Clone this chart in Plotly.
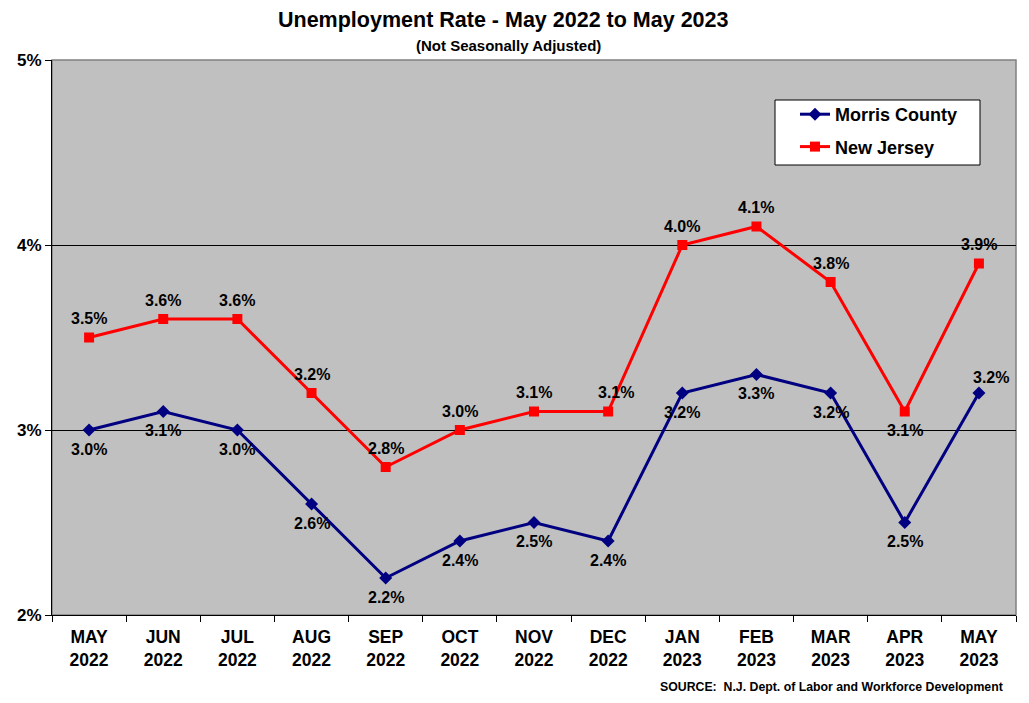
import plotly.graph_objects as go

months = ["MAY<br>2022", "JUN<br>2022", "JUL<br>2022", "AUG<br>2022", "SEP<br>2022", "OCT<br>2022",
          "NOV<br>2022", "DEC<br>2022", "JAN<br>2023", "FEB<br>2023", "MAR<br>2023", "APR<br>2023", "MAY<br>2023"]
morris = [3.0, 3.1, 3.0, 2.6, 2.2, 2.4, 2.5, 2.4, 3.2, 3.3, 3.2, 2.5, 3.2]
nj = [3.5, 3.6, 3.6, 3.2, 2.8, 3.0, 3.1, 3.1, 4.0, 4.1, 3.8, 3.1, 3.9]
y_ticks = [2, 3, 4, 5]

FONT = "Liberation Sans, Arial, sans-serif"
NARROW = "Liberation Sans Narrow, Arial Narrow, Liberation Sans, sans-serif"

# label offsets (pixels) for data labels
morris_dx = [0] * 12 + [12]
morris_dy = [-19] * 12 + [16]
nj_dx = [0] * 7 + [8, 0, 0, 0, 0, 0]
nj_dy = [19] * 11 + [-19, 19]

L, R, T, B = 52, 13, 60, 88
W, H = 1029, 703
W_plot = W - L - R
H_plot = H - T - B
def px(xp):
    return (xp - L) / W_plot
def py(yp):
    return (H - B - yp) / H_plot

fig = go.Figure()
fig.add_trace(go.Scatter(
    x=months, y=morris, name="Morris County", mode="lines+markers", legendgroup="a",
    line=dict(color="#000080", width=3),
    marker=dict(symbol="diamond", size=10, color="#000080"),
    cliponaxis=False,
))
fig.add_trace(go.Scatter(
    x=months, y=nj, name="New Jersey", mode="lines+markers", legendgroup="b",
    line=dict(color="#FF0000", width=3),
    marker=dict(symbol="square", size=10, color="#FF0000"),
    cliponaxis=False,
))

anns = []
lab_font = dict(family=FONT, size=16, color="black", weight="bold")
for m, v, dx, dy in zip(months, morris, morris_dx, morris_dy):
    anns.append(dict(x=m, y=v, xref="x", yref="y", text=f"{v:.1f}%", showarrow=False,
                     xshift=dx, yshift=dy, font=lab_font))
for m, v, dx, dy in zip(months, nj, nj_dx, nj_dy):
    anns.append(dict(x=m, y=v, xref="x", yref="y", text=f"{v:.1f}%", showarrow=False,
                     xshift=dx, yshift=dy, font=lab_font))
anns += [
    dict(text="<b>Unemployment Rate - May 2022 to May 2023</b>", x=px(503), y=py(20), xref="paper", yref="paper",
         xanchor="center", yanchor="middle", showarrow=False,
         font=dict(family=NARROW, size=21.5, color="black")),
    dict(text="<b>(Not Seasonally Adjusted)</b>", x=px(508), y=py(45), xref="paper", yref="paper",
         xanchor="center", yanchor="middle", showarrow=False,
         font=dict(family=NARROW, size=15, color="black")),
    dict(text="<b>SOURCE:  N.J. Dept. of Labor and Workforce Development</b>", x=px(1005), y=py(687),
         xref="paper", yref="paper", xanchor="right", yanchor="middle", showarrow=False,
         font=dict(family=FONT, size=12.3, color="black")),
]

fig.update_layout(
    width=W, height=H,
    margin=dict(l=L, r=R, t=T, b=B),
    paper_bgcolor="white", plot_bgcolor="#C0C0C0",
    font=dict(family=FONT, color="black"),
    showlegend=True,
    legend=dict(x=px(795), y=py(96), xanchor="left", yanchor="top",
                bgcolor="rgba(0,0,0,0)", borderwidth=0,
                font=dict(family=FONT, size=18, color="black", weight="bold"),
                itemwidth=30, tracegroupgap=6),
    annotations=anns,
)

fig.update_xaxes(
    type="category", range=[-0.5, len(months) - 0.5],
    tickson="boundaries", ticks="outside", ticklen=6, tickcolor="black",
    showline=True, linecolor="black", linewidth=1, showgrid=False, automargin=False,
    tickfont=dict(family=FONT, size=17.5, color="black", weight="bold"),
    ticklabelstandoff=6,
)
fig.update_yaxes(
    range=[2, 5], tickvals=y_ticks, ticktext=[f"{v}%" for v in y_ticks],
    ticks="outside", ticklen=6, tickcolor="black", automargin=False,
    showline=True, linecolor="black", linewidth=1,
    showgrid=True, gridcolor="black", gridwidth=1, zeroline=False,
    tickfont=dict(family=FONT, size=17, color="black", weight="bold"),
)
fig.add_shape(type="rect", xref="paper", yref="paper", x0=0, y0=0, x1=1, y1=1,
              line=dict(color="#808080", width=1.5), layer="below")
fig.add_shape(type="rect", xref="paper", yref="paper", x0=px(775), y0=py(165), x1=px(980), y1=py(100),
              line=dict(color="black", width=1), fillcolor="white", layer="above")

fig.write_html("out.html")
